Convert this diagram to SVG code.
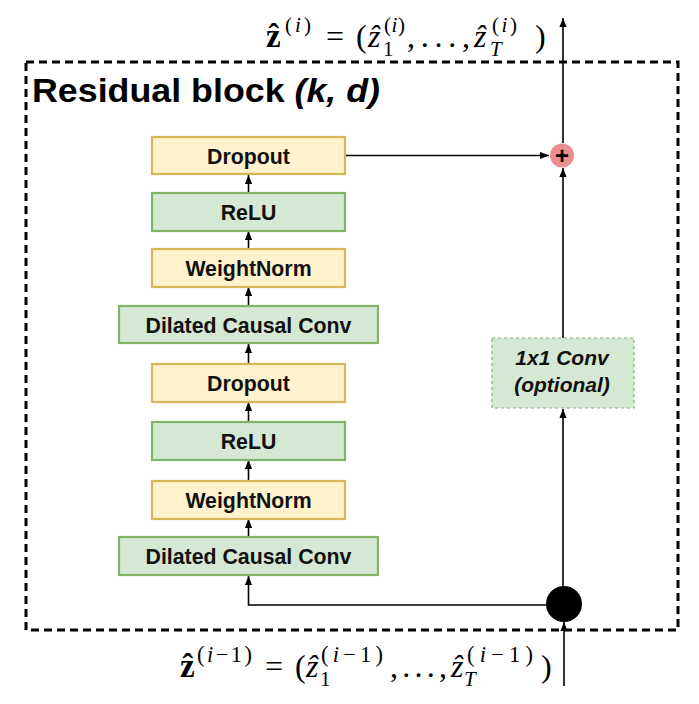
<svg xmlns="http://www.w3.org/2000/svg" width="699" height="704" viewBox="0 0 699 704">
<style>
.box text{font-family:"Liberation Sans",Arial,sans-serif;font-weight:bold;font-size:21.3px;text-anchor:middle;fill:#111}
.y{fill:#FFF2CC;stroke:#D6B656;stroke-width:2.2}
.g{fill:#D5E8D4;stroke:#82B366;stroke-width:2.2}
.ln{fill:none;stroke:#000;stroke-width:1.6;marker-end:url(#ah)}
.m{font-family:"Liberation Serif","DejaVu Serif",serif;fill:#000}
.it{font-style:italic}
</style>
<defs>
<marker id="ah" viewBox="0 0 10 8" refX="10" refY="4" markerWidth="9" markerHeight="7.5" markerUnits="userSpaceOnUse" orient="auto">
<path d="M0,0 L10,4 L0,8 z" fill="#000"/>
</marker>
</defs>
<rect width="699" height="704" fill="#fff"/>

<g id="residual-block">
<rect x="26" y="62" width="652" height="568" fill="none" stroke="#000" stroke-width="3" stroke-dasharray="8 5"/>
<text x="32" y="102" font-family="'Liberation Sans',Arial,sans-serif" font-weight="bold" font-size="33" textLength="348" lengthAdjust="spacingAndGlyphs">Residual block <tspan font-style="italic">(k, d)</tspan></text>
</g>

<g id="connectors">
<line class="ln" x1="248.5" y1="193" x2="248.5" y2="175"/>
<line class="ln" x1="248.5" y1="249" x2="248.5" y2="231"/>
<line class="ln" x1="248.5" y1="306" x2="248.5" y2="287"/>
<line class="ln" x1="248.5" y1="364" x2="248.5" y2="344"/>
<line class="ln" x1="248.5" y1="422" x2="248.5" y2="402"/>
<line class="ln" x1="248.5" y1="481" x2="248.5" y2="460"/>
<line class="ln" x1="248.5" y1="537" x2="248.5" y2="519"/>
<path class="ln" d="M548,605 H248.5 V576"/>
<line class="ln" x1="345" y1="155.5" x2="549" y2="155.5"/>
<line class="ln" x1="563" y1="588" x2="563" y2="409"/>
<line class="ln" x1="563" y1="338" x2="563" y2="168"/>
<line class="ln" x1="563" y1="143" x2="563" y2="18"/>
<line class="ln" x1="564" y1="686" x2="564" y2="622"/>
</g>

<g id="dropout1" class="box"><rect class="y" x="152" y="137" width="193" height="37"/><text x="248.5" y="163.5">Dropout</text></g>
<g id="relu1" class="box"><rect class="g" x="152" y="193" width="193" height="38"/><text x="248.5" y="220">ReLU</text></g>
<g id="weightnorm1" class="box"><rect class="y" x="152" y="249" width="193" height="38"/><text x="248.5" y="276">WeightNorm</text></g>
<g id="dcc1" class="box"><rect class="g" x="119" y="306" width="259" height="37"/><text x="248.5" y="332.5">Dilated Causal Conv</text></g>
<g id="dropout2" class="box"><rect class="y" x="152" y="364" width="193" height="38"/><text x="248.5" y="391">Dropout</text></g>
<g id="relu2" class="box"><rect class="g" x="152" y="422" width="193" height="38"/><text x="248.5" y="449">ReLU</text></g>
<g id="weightnorm2" class="box"><rect class="y" x="152" y="481" width="193" height="38"/><text x="248.5" y="508">WeightNorm</text></g>
<g id="dcc2" class="box"><rect class="g" x="119" y="537" width="259" height="38"/><text x="248.5" y="564">Dilated Causal Conv</text></g>

<g id="conv1x1"><rect x="492" y="338" width="142" height="70" fill="#D5E8D4" stroke="#82B366" stroke-width="1.2" stroke-dasharray="3 3"/>
<text x="562" y="365" text-anchor="middle" font-family="'Liberation Sans',Arial,sans-serif" font-weight="bold" font-style="italic" font-size="21" fill="#111">1x1 Conv</text>
<text x="562" y="392" text-anchor="middle" font-family="'Liberation Sans',Arial,sans-serif" font-weight="bold" font-style="italic" font-size="21" fill="#111">(optional)</text></g>

<g id="add"><circle cx="562" cy="155.5" r="12" fill="#EA8F8D"/>
<text x="562" y="163.5" text-anchor="middle" font-family="'Liberation Sans',Arial,sans-serif" font-weight="bold" font-size="24">+</text></g>

<g id="split"><circle cx="564" cy="604" r="18" fill="#000"/></g>

<g id="output-label" class="m">
<text x="266" y="47" font-size="33" font-weight="bold">ẑ</text>
<text x="285" y="32" font-size="21" textLength="26" lengthAdjust="spacing">(<tspan class="it">i</tspan>)</text>
<text x="326" y="47" font-size="32">=</text>
<text x="356" y="47" font-size="32">(</text>
<text x="368" y="47" font-size="32" class="it">ẑ</text>
<text x="384" y="32" font-size="21" textLength="21" lengthAdjust="spacing">(<tspan class="it">i</tspan>)</text>
<text x="383" y="56" font-size="21">1</text>
<text x="407" y="47" font-size="32" textLength="63" lengthAdjust="spacing">, . . . ,</text>
<text x="474" y="47" font-size="32" class="it">ẑ</text>
<text x="492" y="32" font-size="21" textLength="25" lengthAdjust="spacing">(<tspan class="it">i</tspan>)</text>
<text x="490" y="56" font-size="21" class="it">T</text>
<text x="535" y="47" font-size="32">)</text>
</g>

<g id="input-label" class="m">
<text x="180" y="677" font-size="33" font-weight="bold">ẑ</text>
<text x="197" y="662" font-size="22.5" textLength="55" lengthAdjust="spacing">(<tspan class="it">i</tspan>−1)</text>
<text x="265" y="677" font-size="32">=</text>
<text x="295" y="677" font-size="32">(</text>
<text x="306" y="677" font-size="32" class="it">ẑ</text>
<text x="321" y="662" font-size="22.5" textLength="62" lengthAdjust="spacing">(<tspan class="it">i</tspan>−1)</text>
<text x="320" y="686" font-size="21">1</text>
<text x="390" y="677" font-size="32" textLength="57" lengthAdjust="spacing">, . . . ,</text>
<text x="451" y="677" font-size="32" class="it">ẑ</text>
<text x="467" y="662" font-size="22.5" textLength="66" lengthAdjust="spacing">(<tspan class="it">i</tspan>−1)</text>
<text x="464" y="686" font-size="21" class="it">T</text>
<text x="541" y="677" font-size="32">)</text>
</g>
</svg>
